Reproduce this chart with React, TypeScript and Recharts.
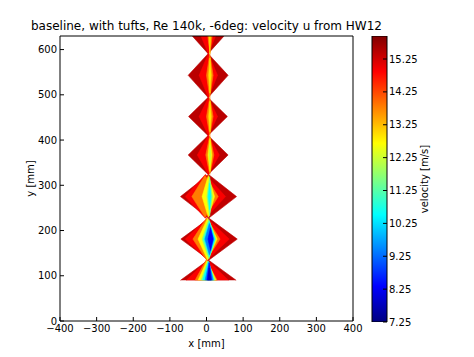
import React from "react";
import { ComposedChart, Area, Bar, XAxis, YAxis } from "recharts";

const xTicks = [-400, -300, -200, -100, 0, 100, 200, 300, 400];
const yTicks = [0, 100, 200, 300, 400, 500, 600];
const colorTicks = [7.25, 8.25, 9.25, 10.25, 11.25, 12.25, 13.25, 14.25, 15.25];
const vMin = 7.25;
const vMax = 15.95;

// measured diamonds, bottom -> top (mm)
const diamondBottom = [90, 135, 227, 324, 410, 494, 591];
const diamondMiddle = [90, 181, 275, 367, 452, 543, 640];
const diamondTop = [135, 227, 324, 410, 494, 591, 690];
const diamondLeft = [-71, -70, -71, -50, -49, -50, -50];
const diamondRight = [81, 84, 82, 59, 57, 59, 59];
const edgeVelocity = [15.4, 15.4, 15.4, 15.45, 15.45, 15.45, 15.45];

// contour levels inside each diamond: [velocity, left x, right x, vertical reach]
const core0 = [
  [14.9, -55, 60, 1], [13.8, -31, 29, 1], [12.7, -23, 26, 0.97], [11.6, -15, 23, 0.95],
  [10.5, -10, 20, 0.92], [9.4, -4, 18, 0.9], [8.3, 1, 14, 0.85], [7.7, 4, 11, 0.6],
];
const core1 = [
  [14.9, -58, 62, 1], [13.8, -37, 37, 1], [12.7, -23, 29, 1], [11.6, -12, 25, 0.95],
  [10.5, -7, 23, 0.85], [9.4, -4, 20, 0.75], [8.3, 4, 18, 0.55],
];
const core2 = [
  [14.9, -58, 52, 1], [13.8, -40, 32, 0.95], [12.7, -12, 22, 0.95], [11.6, 1, 16, 0.9],
  [10.5, 5, 12, 0.6],
];
const core3 = [[14.9, -25, 35, 1], [13.8, -2, 20, 1], [12.7, 4, 15, 0.85], [12.2, 7, 12, 0.5]];
const core4 = [[14.9, -20, 30, 1], [13.8, 0, 18, 1], [12.9, 6, 13, 0.8]];
const core5 = [[14.9, -20, 30, 1], [13.8, 0, 18, 1], [12.9, 6, 13, 0.8]];
const core6 = [[14.9, -20, 30, 1], [13.8, 2, 17, 1], [13.0, 6, 12, 1]];
const cores = [core0, core1, core2, core3, core4, core5, core6];

const colorBar = [{ name: "velocity", range: [vMin, vMax] }];

const clamp = (v: number) => Math.max(0, Math.min(1, v));
const jet = (v: number) => {
  const t = clamp((v - vMin) / (vMax - vMin));
  const r = clamp(1.5 - Math.abs(4 * t - 3));
  const g = clamp(1.5 - Math.abs(4 * t - 2));
  const b = clamp(1.5 - Math.abs(4 * t - 1));
  return `rgb(${Math.round(r * 255)},${Math.round(g * 255)},${Math.round(b * 255)})`;
};

const kite = (i: number, l: number, r: number, reach: number) => {
  const yb = diamondBottom[i];
  const ym = diamondMiddle[i];
  const yt = diamondTop[i];
  const xc = (l + r) / 2;
  const mid = { y: ym, r: [l, r] };
  const top = { y: ym + reach * (yt - ym), r: [xc, xc] };
  if (ym <= yb) return [mid, top];
  return [{ y: ym - reach * (ym - yb), r: [xc, xc] }, mid, top];
};

const shapes: { key: string; color: string; data: any[] }[] = [];
diamondMiddle.forEach((_, i) => {
  shapes.push({ key: `d${i}`, color: jet(edgeVelocity[i]), data: kite(i, diamondLeft[i], diamondRight[i], 1) });
  cores[i].forEach(([v, l, r, reach], j) => {
    shapes.push({ key: `d${i}c${j}`, color: jet(v), data: kite(i, l, r, reach) });
  });
});

const minus = (v: number) => String(v).replace("-", "\u2212");
const tickStyle = { fill: "#000", fontSize: 10 };
const black = { stroke: "#000" };

const gradientStops = Array.from({ length: 41 }, (_, k) => k / 40);

export default function App() {
  return (
    <div style={{ position: "absolute", left: 0, top: 0, width: 474, height: 357, background: "#fff", fontFamily: "DejaVu Sans" }}>
      <div style={{ position: "absolute", left: 0, top: 19, width: 413, textAlign: "center", fontSize: 12, lineHeight: "14px", color: "#000", whiteSpace: "nowrap" }}>
        baseline, with tufts, Re 140k, -6deg: velocity u from HW12
      </div>
      <div style={{ position: "absolute", left: 0, top: 0 }}>
        <ComposedChart width={474} height={357} layout="vertical" margin={{ top: 35, right: 120, bottom: 0, left: 0 }}>
          <XAxis
            type="number" domain={[-400, 400]} ticks={xTicks} allowDataOverflow height={36}
            tickSize={-4} tickMargin={8} tick={tickStyle} tickLine={black} axisLine={black}
            tickFormatter={minus}
            label={{ value: "x [mm]", position: "insideBottom", offset: 10, fill: "#000", fontSize: 10 }}
          />
          <XAxis
            xAxisId="top" orientation="top" type="number" domain={[-400, 400]} ticks={xTicks}
            allowDataOverflow height={1} tickSize={-4} tick={false} tickLine={black} axisLine={black}
          />
          <YAxis
            type="number" dataKey="y" domain={[0, 630]} ticks={yTicks} allowDataOverflow reversed width={60}
            tickSize={-4} tickMargin={7} tick={tickStyle} tickLine={black} axisLine={black}
            label={{ value: "y [mm]", position: "center", angle: -90, fill: "#000", fontSize: 10 }}
          />
          <YAxis
            yAxisId="right" orientation="right" type="number" domain={[0, 630]} ticks={yTicks} reversed
            allowDataOverflow width={1} tickSize={-4} tick={false} tickLine={black} axisLine={black}
          />
          {shapes.map((s) => (
            <Area
              key={s.key} data={s.data} dataKey="r" type="linear" fill={s.color} fillOpacity={1}
              stroke={s.color} strokeWidth={0.6} dot={false} activeDot={false} isAnimationActive={false}
            />
          ))}
        </ComposedChart>
      </div>
      <div style={{ position: "absolute", left: 362, top: 0 }}>
        <ComposedChart
          width={112} height={357} data={colorBar} barCategoryGap={0}
          margin={{ top: 36, right: 13, bottom: 35, left: 10 }}
        >
          <defs>
            <linearGradient id="jetBar" x1="0" y1="1" x2="0" y2="0">
              {gradientStops.map((t) => (
                <stop key={t} offset={t} stopColor={jet(vMin + t * (vMax - vMin))} />
              ))}
            </linearGradient>
          </defs>
          <XAxis type="category" dataKey="name" hide />
          <YAxis
            orientation="right" type="number" domain={[vMin, vMax]} ticks={colorTicks} allowDataOverflow
            width={74} tickSize={-4} tickMargin={6} tick={tickStyle} tickLine={black} axisLine={false}
            label={{ value: "velocity [m/s]", position: "center", angle: -90, fill: "#000", fontSize: 10 }}
          />
          <Bar dataKey="range" fill="url(#jetBar)" stroke="#000" strokeWidth={1} isAnimationActive={false} />
        </ComposedChart>
      </div>
    </div>
  );
}
